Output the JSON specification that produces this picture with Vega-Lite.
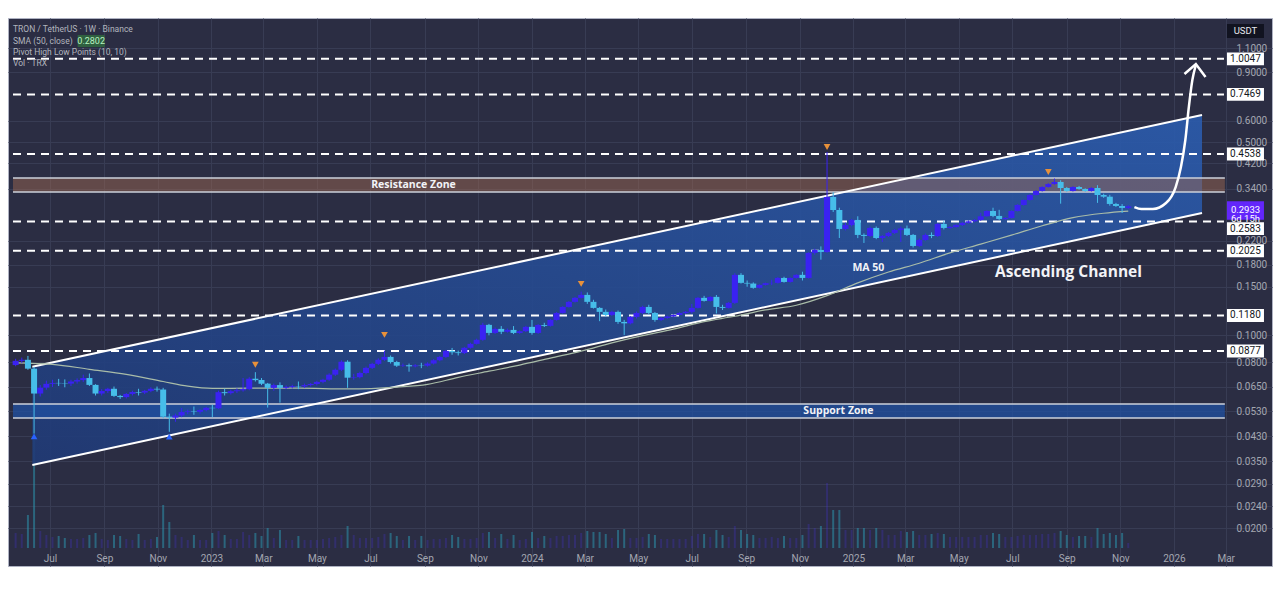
{
  "$schema": "https://vega.github.io/schema/vega-lite/v6.json",
  "width": 1264,
  "height": 548,
  "autosize": {"type": "none"},
  "padding": {"left": 8, "top": 18, "right": 8, "bottom": 44},
  "background": "#ffffff",
  "config": {
    "view": {"fill": "#2b2d43", "stroke": "#aeb2c2", "strokeWidth": 1},
    "font": "Roboto",
    "axis": {"domain": false, "ticks": false, "gridColor": "#383c54", "gridWidth": 1, "labelColor": "#a4a7b1", "labelFontSize": 10, "labelFont": "Roboto"}
  },
  "title": {
    "text": ["TRON / TetherUS · 1W · Binance", "SMA (50, close)", "Pivot High Low Points (10, 10)", "Vol · TRX"],
    "anchor": "start", "frame": "group", "offset": -50, "dx": 5,
    "fontSize": 8.5, "fontWeight": "normal", "color": "#b2b5be", "lineHeight": 11.4, "font": "Roboto"
  },
  "datasets": {
    "candles": [
      {"d":"2022-05-23","o":0.0780,"h":0.0822,"l":0.0772,"c":0.0808,"v":1500},
      {"d":"2022-05-30","o":0.0808,"h":0.0830,"l":0.0795,"c":0.0815,"v":1400},
      {"d":"2022-06-06","o":0.0815,"h":0.0842,"l":0.0750,"c":0.0757,"v":3300},
      {"d":"2022-06-13","o":0.0757,"h":0.0768,"l":0.0440,"c":0.0615,"v":10800},
      {"d":"2022-06-20","o":0.0615,"h":0.0660,"l":0.0600,"c":0.0646,"v":1700},
      {"d":"2022-06-27","o":0.0646,"h":0.0685,"l":0.0635,"c":0.0667,"v":1300},
      {"d":"2022-07-04","o":0.0667,"h":0.0690,"l":0.0650,"c":0.0672,"v":1100},
      {"d":"2022-07-11","o":0.0672,"h":0.0695,"l":0.0655,"c":0.0670,"v":1200},
      {"d":"2022-07-18","o":0.0670,"h":0.0692,"l":0.0648,"c":0.0668,"v":1000},
      {"d":"2022-07-25","o":0.0668,"h":0.0690,"l":0.0655,"c":0.0680,"v":900},
      {"d":"2022-08-01","o":0.0680,"h":0.0698,"l":0.0668,"c":0.0688,"v":900},
      {"d":"2022-08-08","o":0.0688,"h":0.0720,"l":0.0678,"c":0.0700,"v":1000},
      {"d":"2022-08-15","o":0.0700,"h":0.0727,"l":0.0655,"c":0.0661,"v":1300},
      {"d":"2022-08-22","o":0.0661,"h":0.0665,"l":0.0605,"c":0.0615,"v":1500},
      {"d":"2022-08-29","o":0.0615,"h":0.0638,"l":0.0605,"c":0.0628,"v":900},
      {"d":"2022-09-05","o":0.0628,"h":0.0645,"l":0.0618,"c":0.0640,"v":800},
      {"d":"2022-09-12","o":0.0640,"h":0.0652,"l":0.0598,"c":0.0603,"v":1300},
      {"d":"2022-09-19","o":0.0603,"h":0.0608,"l":0.0588,"c":0.0597,"v":1200},
      {"d":"2022-09-26","o":0.0597,"h":0.0618,"l":0.0590,"c":0.0613,"v":900},
      {"d":"2022-10-03","o":0.0613,"h":0.0630,"l":0.0605,"c":0.0623,"v":800},
      {"d":"2022-10-10","o":0.0623,"h":0.0640,"l":0.0605,"c":0.0620,"v":1400},
      {"d":"2022-10-17","o":0.0620,"h":0.0634,"l":0.0612,"c":0.0629,"v":800},
      {"d":"2022-10-24","o":0.0629,"h":0.0648,"l":0.0622,"c":0.0640,"v":900},
      {"d":"2022-10-31","o":0.0640,"h":0.0652,"l":0.0625,"c":0.0636,"v":1100},
      {"d":"2022-11-07","o":0.0636,"h":0.0645,"l":0.0500,"c":0.0507,"v":4300},
      {"d":"2022-11-14","o":0.0507,"h":0.0520,"l":0.0447,"c":0.0503,"v":2600},
      {"d":"2022-11-21","o":0.0503,"h":0.0520,"l":0.0486,"c":0.0512,"v":1300},
      {"d":"2022-11-28","o":0.0512,"h":0.0545,"l":0.0505,"c":0.0527,"v":1100},
      {"d":"2022-12-05","o":0.0527,"h":0.0538,"l":0.0518,"c":0.0530,"v":800},
      {"d":"2022-12-12","o":0.0530,"h":0.0552,"l":0.0515,"c":0.0528,"v":1300},
      {"d":"2022-12-19","o":0.0528,"h":0.0540,"l":0.0520,"c":0.0536,"v":800},
      {"d":"2022-12-26","o":0.0536,"h":0.0550,"l":0.0530,"c":0.0546,"v":800},
      {"d":"2023-01-02","o":0.0546,"h":0.0560,"l":0.0505,"c":0.0544,"v":1500},
      {"d":"2023-01-09","o":0.0544,"h":0.0630,"l":0.0540,"c":0.0622,"v":1700},
      {"d":"2023-01-16","o":0.0622,"h":0.0640,"l":0.0605,"c":0.0617,"v":1300},
      {"d":"2023-01-23","o":0.0617,"h":0.0635,"l":0.0610,"c":0.0627,"v":900},
      {"d":"2023-01-30","o":0.0627,"h":0.0642,"l":0.0618,"c":0.0632,"v":900},
      {"d":"2023-02-06","o":0.0632,"h":0.0700,"l":0.0625,"c":0.0638,"v":1600},
      {"d":"2023-02-13","o":0.0638,"h":0.0705,"l":0.0632,"c":0.0696,"v":1300},
      {"d":"2023-02-20","o":0.0696,"h":0.0735,"l":0.0680,"c":0.0688,"v":1500},
      {"d":"2023-02-27","o":0.0688,"h":0.0700,"l":0.0660,"c":0.0668,"v":1200},
      {"d":"2023-03-06","o":0.0668,"h":0.0672,"l":0.0547,"c":0.0645,"v":2000},
      {"d":"2023-03-13","o":0.0645,"h":0.0668,"l":0.0630,"c":0.0660,"v":1000},
      {"d":"2023-03-20","o":0.0660,"h":0.0675,"l":0.0570,"c":0.0645,"v":1800},
      {"d":"2023-03-27","o":0.0645,"h":0.0658,"l":0.0638,"c":0.0650,"v":800},
      {"d":"2023-04-03","o":0.0650,"h":0.0662,"l":0.0642,"c":0.0655,"v":800},
      {"d":"2023-04-10","o":0.0655,"h":0.0680,"l":0.0638,"c":0.0653,"v":1200},
      {"d":"2023-04-17","o":0.0653,"h":0.0668,"l":0.0645,"c":0.0660,"v":800},
      {"d":"2023-04-24","o":0.0660,"h":0.0672,"l":0.0652,"c":0.0666,"v":800},
      {"d":"2023-05-01","o":0.0666,"h":0.0684,"l":0.0658,"c":0.0678,"v":800},
      {"d":"2023-05-08","o":0.0678,"h":0.0696,"l":0.0670,"c":0.0690,"v":900},
      {"d":"2023-05-15","o":0.0690,"h":0.0728,"l":0.0684,"c":0.0720,"v":1000},
      {"d":"2023-05-22","o":0.0720,"h":0.0758,"l":0.0712,"c":0.0750,"v":1100},
      {"d":"2023-05-29","o":0.0750,"h":0.0812,"l":0.0742,"c":0.0802,"v":1300},
      {"d":"2023-06-05","o":0.0802,"h":0.0812,"l":0.0645,"c":0.0702,"v":2200},
      {"d":"2023-06-12","o":0.0702,"h":0.0725,"l":0.0690,"c":0.0705,"v":1300},
      {"d":"2023-06-19","o":0.0705,"h":0.0738,"l":0.0698,"c":0.0730,"v":1000},
      {"d":"2023-06-26","o":0.0730,"h":0.0770,"l":0.0722,"c":0.0762,"v":1000},
      {"d":"2023-07-03","o":0.0762,"h":0.0795,"l":0.0755,"c":0.0788,"v":1000},
      {"d":"2023-07-10","o":0.0788,"h":0.0825,"l":0.0780,"c":0.0815,"v":1100},
      {"d":"2023-07-17","o":0.0815,"h":0.0880,"l":0.0808,"c":0.0835,"v":1400},
      {"d":"2023-07-24","o":0.0835,"h":0.0845,"l":0.0790,"c":0.0800,"v":1500},
      {"d":"2023-07-31","o":0.0800,"h":0.0808,"l":0.0768,"c":0.0776,"v":1200},
      {"d":"2023-08-07","o":0.0776,"h":0.0790,"l":0.0768,"c":0.0779,"v":800},
      {"d":"2023-08-14","o":0.0779,"h":0.0790,"l":0.0738,"c":0.0772,"v":1200},
      {"d":"2023-08-21","o":0.0772,"h":0.0786,"l":0.0765,"c":0.0778,"v":800},
      {"d":"2023-08-28","o":0.0778,"h":0.0795,"l":0.0760,"c":0.0776,"v":1200},
      {"d":"2023-09-04","o":0.0776,"h":0.0798,"l":0.0770,"c":0.0790,"v":800},
      {"d":"2023-09-11","o":0.0790,"h":0.0820,"l":0.0784,"c":0.0812,"v":900},
      {"d":"2023-09-18","o":0.0812,"h":0.0842,"l":0.0805,"c":0.0835,"v":900},
      {"d":"2023-09-25","o":0.0835,"h":0.0885,"l":0.0828,"c":0.0878,"v":1000},
      {"d":"2023-10-02","o":0.0878,"h":0.0900,"l":0.0850,"c":0.0868,"v":1300},
      {"d":"2023-10-09","o":0.0868,"h":0.0880,"l":0.0845,"c":0.0862,"v":1100},
      {"d":"2023-10-16","o":0.0862,"h":0.0908,"l":0.0855,"c":0.0901,"v":900},
      {"d":"2023-10-23","o":0.0901,"h":0.0940,"l":0.0895,"c":0.0931,"v":900},
      {"d":"2023-10-30","o":0.0931,"h":0.0972,"l":0.0925,"c":0.0963,"v":1000},
      {"d":"2023-11-06","o":0.0963,"h":0.1110,"l":0.0955,"c":0.1091,"v":1500},
      {"d":"2023-11-13","o":0.1091,"h":0.1100,"l":0.1000,"c":0.1020,"v":1600},
      {"d":"2023-11-20","o":0.1020,"h":0.1068,"l":0.1012,"c":0.1055,"v":1000},
      {"d":"2023-11-27","o":0.1055,"h":0.1080,"l":0.1010,"c":0.1030,"v":1400},
      {"d":"2023-12-04","o":0.1030,"h":0.1058,"l":0.1022,"c":0.1046,"v":900},
      {"d":"2023-12-11","o":0.1046,"h":0.1080,"l":0.1010,"c":0.1020,"v":1300},
      {"d":"2023-12-18","o":0.1020,"h":0.1042,"l":0.1012,"c":0.1035,"v":800},
      {"d":"2023-12-25","o":0.1035,"h":0.1082,"l":0.1028,"c":0.1073,"v":900},
      {"d":"2024-01-01","o":0.1073,"h":0.1137,"l":0.1005,"c":0.1020,"v":1600},
      {"d":"2024-01-08","o":0.1020,"h":0.1098,"l":0.1012,"c":0.1090,"v":1000},
      {"d":"2024-01-15","o":0.1090,"h":0.1110,"l":0.1072,"c":0.1082,"v":1200},
      {"d":"2024-01-22","o":0.1082,"h":0.1145,"l":0.1075,"c":0.1137,"v":1000},
      {"d":"2024-01-29","o":0.1137,"h":0.1215,"l":0.1130,"c":0.1205,"v":1200},
      {"d":"2024-02-05","o":0.1205,"h":0.1275,"l":0.1198,"c":0.1267,"v":1200},
      {"d":"2024-02-12","o":0.1267,"h":0.1330,"l":0.1260,"c":0.1322,"v":1300},
      {"d":"2024-02-19","o":0.1322,"h":0.1378,"l":0.1315,"c":0.1367,"v":1300},
      {"d":"2024-02-26","o":0.1367,"h":0.1440,"l":0.1360,"c":0.1401,"v":1500},
      {"d":"2024-03-04","o":0.1401,"h":0.1430,"l":0.1300,"c":0.1322,"v":1700},
      {"d":"2024-03-11","o":0.1322,"h":0.1345,"l":0.1250,"c":0.1257,"v":1600},
      {"d":"2024-03-18","o":0.1257,"h":0.1265,"l":0.1125,"c":0.1216,"v":1600},
      {"d":"2024-03-25","o":0.1216,"h":0.1240,"l":0.1170,"c":0.1185,"v":1400},
      {"d":"2024-04-01","o":0.1185,"h":0.1228,"l":0.1175,"c":0.1216,"v":1000},
      {"d":"2024-04-08","o":0.1216,"h":0.1230,"l":0.1100,"c":0.1118,"v":1800},
      {"d":"2024-04-15","o":0.1118,"h":0.1137,"l":0.1003,"c":0.1105,"v":1900},
      {"d":"2024-04-22","o":0.1105,"h":0.1175,"l":0.1095,"c":0.1166,"v":1000},
      {"d":"2024-04-29","o":0.1166,"h":0.1220,"l":0.1150,"c":0.1205,"v":1000},
      {"d":"2024-05-06","o":0.1205,"h":0.1280,"l":0.1195,"c":0.1267,"v":1100},
      {"d":"2024-05-13","o":0.1267,"h":0.1290,"l":0.1190,"c":0.1205,"v":1400},
      {"d":"2024-05-20","o":0.1205,"h":0.1215,"l":0.1120,"c":0.1137,"v":1300},
      {"d":"2024-05-27","o":0.1137,"h":0.1165,"l":0.1128,"c":0.1156,"v":900},
      {"d":"2024-06-03","o":0.1156,"h":0.1178,"l":0.1148,"c":0.1170,"v":900},
      {"d":"2024-06-10","o":0.1170,"h":0.1192,"l":0.1162,"c":0.1185,"v":900},
      {"d":"2024-06-17","o":0.1185,"h":0.1212,"l":0.1178,"c":0.1205,"v":900},
      {"d":"2024-06-24","o":0.1205,"h":0.1225,"l":0.1195,"c":0.1216,"v":900},
      {"d":"2024-07-01","o":0.1216,"h":0.1300,"l":0.1200,"c":0.1257,"v":1200},
      {"d":"2024-07-08","o":0.1257,"h":0.1375,"l":0.1250,"c":0.1367,"v":1400},
      {"d":"2024-07-15","o":0.1367,"h":0.1390,"l":0.1325,"c":0.1333,"v":1400},
      {"d":"2024-07-22","o":0.1333,"h":0.1385,"l":0.1325,"c":0.1378,"v":1100},
      {"d":"2024-07-29","o":0.1378,"h":0.1400,"l":0.1200,"c":0.1267,"v":1800},
      {"d":"2024-08-05","o":0.1267,"h":0.1290,"l":0.1235,"c":0.1257,"v":1300},
      {"d":"2024-08-12","o":0.1257,"h":0.1320,"l":0.1250,"c":0.1311,"v":1100},
      {"d":"2024-08-19","o":0.1311,"h":0.1680,"l":0.1300,"c":0.1656,"v":2200},
      {"d":"2024-08-26","o":0.1656,"h":0.1680,"l":0.1540,"c":0.1549,"v":1800},
      {"d":"2024-09-02","o":0.1549,"h":0.1580,"l":0.1500,"c":0.1540,"v":1400},
      {"d":"2024-09-09","o":0.1540,"h":0.1555,"l":0.1475,"c":0.1486,"v":1300},
      {"d":"2024-09-16","o":0.1486,"h":0.1530,"l":0.1478,"c":0.1523,"v":1000},
      {"d":"2024-09-23","o":0.1523,"h":0.1552,"l":0.1515,"c":0.1545,"v":1000},
      {"d":"2024-09-30","o":0.1545,"h":0.1590,"l":0.1520,"c":0.1549,"v":1100},
      {"d":"2024-10-07","o":0.1549,"h":0.1625,"l":0.1540,"c":0.1614,"v":1000},
      {"d":"2024-10-14","o":0.1614,"h":0.1630,"l":0.1552,"c":0.1561,"v":1200},
      {"d":"2024-10-21","o":0.1561,"h":0.1622,"l":0.1552,"c":0.1614,"v":1000},
      {"d":"2024-10-28","o":0.1614,"h":0.1665,"l":0.1605,"c":0.1656,"v":1000},
      {"d":"2024-11-04","o":0.1656,"h":0.1700,"l":0.1580,"c":0.1614,"v":1300},
      {"d":"2024-11-11","o":0.1614,"h":0.2000,"l":0.1605,"c":0.1989,"v":2400},
      {"d":"2024-11-18","o":0.1989,"h":0.2060,"l":0.1960,"c":0.2039,"v":2000},
      {"d":"2024-11-25","o":0.2039,"h":0.2100,"l":0.1880,"c":0.2005,"v":2200},
      {"d":"2024-12-02","o":0.2005,"h":0.4617,"l":0.1990,"c":0.3172,"v":6500},
      {"d":"2024-12-09","o":0.3172,"h":0.3300,"l":0.2800,"c":0.2846,"v":3800},
      {"d":"2024-12-16","o":0.2846,"h":0.2900,"l":0.2253,"c":0.2429,"v":3800},
      {"d":"2024-12-23","o":0.2429,"h":0.2560,"l":0.2400,"c":0.2510,"v":1800},
      {"d":"2024-12-30","o":0.2510,"h":0.2640,"l":0.2480,"c":0.2619,"v":1800},
      {"d":"2025-01-06","o":0.2619,"h":0.2700,"l":0.2250,"c":0.2311,"v":2000},
      {"d":"2025-01-13","o":0.2311,"h":0.2340,"l":0.2161,"c":0.2292,"v":2000},
      {"d":"2025-01-20","o":0.2292,"h":0.2480,"l":0.2270,"c":0.2450,"v":1800},
      {"d":"2025-01-27","o":0.2450,"h":0.2480,"l":0.2230,"c":0.2253,"v":2000},
      {"d":"2025-02-03","o":0.2253,"h":0.2310,"l":0.2180,"c":0.2290,"v":1800},
      {"d":"2025-02-10","o":0.2290,"h":0.2370,"l":0.2270,"c":0.2350,"v":1300},
      {"d":"2025-02-17","o":0.2350,"h":0.2430,"l":0.2330,"c":0.2409,"v":1300},
      {"d":"2025-02-24","o":0.2409,"h":0.2480,"l":0.2180,"c":0.2440,"v":1700},
      {"d":"2025-03-03","o":0.2440,"h":0.2500,"l":0.2290,"c":0.2311,"v":1600},
      {"d":"2025-03-10","o":0.2311,"h":0.2330,"l":0.2080,"c":0.2108,"v":1700},
      {"d":"2025-03-17","o":0.2108,"h":0.2240,"l":0.2090,"c":0.2216,"v":1300},
      {"d":"2025-03-24","o":0.2216,"h":0.2340,"l":0.2200,"c":0.2311,"v":1300},
      {"d":"2025-03-31","o":0.2311,"h":0.2360,"l":0.2250,"c":0.2290,"v":1400},
      {"d":"2025-04-07","o":0.2290,"h":0.2550,"l":0.2270,"c":0.2533,"v":1500},
      {"d":"2025-04-14","o":0.2533,"h":0.2600,"l":0.2420,"c":0.2450,"v":1400},
      {"d":"2025-04-21","o":0.2450,"h":0.2490,"l":0.2430,"c":0.2470,"v":1100},
      {"d":"2025-04-28","o":0.2470,"h":0.2530,"l":0.2455,"c":0.2510,"v":1100},
      {"d":"2025-05-05","o":0.2510,"h":0.2575,"l":0.2490,"c":0.2555,"v":1100},
      {"d":"2025-05-12","o":0.2555,"h":0.2610,"l":0.2540,"c":0.2590,"v":1100},
      {"d":"2025-05-19","o":0.2590,"h":0.2640,"l":0.2570,"c":0.2619,"v":1100},
      {"d":"2025-05-26","o":0.2619,"h":0.2780,"l":0.2600,"c":0.2700,"v":1300},
      {"d":"2025-06-02","o":0.2700,"h":0.2840,"l":0.2690,"c":0.2822,"v":1300},
      {"d":"2025-06-09","o":0.2822,"h":0.2900,"l":0.2680,"c":0.2708,"v":1500},
      {"d":"2025-06-16","o":0.2708,"h":0.2850,"l":0.2620,"c":0.2641,"v":1400},
      {"d":"2025-06-23","o":0.2641,"h":0.2680,"l":0.2620,"c":0.2662,"v":1100},
      {"d":"2025-06-30","o":0.2662,"h":0.2840,"l":0.2650,"c":0.2822,"v":1100},
      {"d":"2025-07-07","o":0.2822,"h":0.2990,"l":0.2810,"c":0.2967,"v":1200},
      {"d":"2025-07-14","o":0.2967,"h":0.3110,"l":0.2950,"c":0.3094,"v":1300},
      {"d":"2025-07-21","o":0.3094,"h":0.3250,"l":0.3080,"c":0.3225,"v":1300},
      {"d":"2025-07-28","o":0.3225,"h":0.3360,"l":0.3210,"c":0.3335,"v":1300},
      {"d":"2025-08-04","o":0.3335,"h":0.3470,"l":0.3320,"c":0.3448,"v":1400},
      {"d":"2025-08-11","o":0.3448,"h":0.3560,"l":0.3430,"c":0.3536,"v":1400},
      {"d":"2025-08-18","o":0.3536,"h":0.3700,"l":0.3510,"c":0.3596,"v":1500},
      {"d":"2025-08-25","o":0.3596,"h":0.3650,"l":0.3000,"c":0.3420,"v":1700},
      {"d":"2025-09-01","o":0.3420,"h":0.3450,"l":0.3310,"c":0.3335,"v":1300},
      {"d":"2025-09-08","o":0.3335,"h":0.3470,"l":0.3320,"c":0.3448,"v":1100},
      {"d":"2025-09-15","o":0.3448,"h":0.3480,"l":0.3370,"c":0.3392,"v":1200},
      {"d":"2025-09-22","o":0.3392,"h":0.3410,"l":0.3310,"c":0.3335,"v":1200},
      {"d":"2025-09-29","o":0.3335,"h":0.3440,"l":0.3320,"c":0.3420,"v":1100},
      {"d":"2025-10-06","o":0.3420,"h":0.3500,"l":0.3020,"c":0.3225,"v":2000},
      {"d":"2025-10-13","o":0.3225,"h":0.3260,"l":0.3150,"c":0.3180,"v":1400},
      {"d":"2025-10-20","o":0.3180,"h":0.3230,"l":0.2950,"c":0.2993,"v":1500},
      {"d":"2025-10-27","o":0.2993,"h":0.3020,"l":0.2920,"c":0.2943,"v":1300},
      {"d":"2025-11-03","o":0.2943,"h":0.2990,"l":0.2776,"c":0.2895,"v":1500},
      {"d":"2025-11-10","o":0.2895,"h":0.2960,"l":0.2870,"c":0.2933,"v":500}
    ],
    "ma": [
      {"d":"2022-05-23","p":0.0795},{"d":"2022-07-04","p":0.0785},{"d":"2022-08-15","p":0.0753},
      {"d":"2022-09-26","p":0.0722},{"d":"2022-11-07","p":0.0680},{"d":"2022-12-05","p":0.0654},
      {"d":"2023-01-02","p":0.0642},{"d":"2023-02-13","p":0.0643},{"d":"2023-04-10","p":0.0643},
      {"d":"2023-06-05","p":0.0639},{"d":"2023-07-31","p":0.0649},{"d":"2023-09-04","p":0.0664},
      {"d":"2023-10-09","p":0.0704},{"d":"2023-11-13","p":0.0741},{"d":"2023-12-18","p":0.0780},
      {"d":"2024-01-22","p":0.0827},{"d":"2024-02-26","p":0.0876},{"d":"2024-04-01","p":0.0939},
      {"d":"2024-05-06","p":0.0997},{"d":"2024-06-10","p":0.1053},{"d":"2024-07-15","p":0.1121},
      {"d":"2024-08-19","p":0.1172},{"d":"2024-09-23","p":0.1236},{"d":"2024-10-28","p":0.1285},
      {"d":"2024-12-02","p":0.1392},{"d":"2025-01-06","p":0.1549},{"d":"2025-02-10","p":0.1696},
      {"d":"2025-03-17","p":0.1825},{"d":"2025-04-21","p":0.1989},{"d":"2025-05-26","p":0.2141},
      {"d":"2025-06-30","p":0.2307},{"d":"2025-08-04","p":0.2495},{"d":"2025-09-08","p":0.2670},
      {"d":"2025-10-13","p":0.2769},{"d":"2025-11-10","p":0.2818}
    ],
    "channel": [
      {"d":"2022-06-11","upper":0.0769,"lower":0.0339},
      {"d":"2026-02-02","upper":0.6289,"lower":0.2777}
    ],
    "zones": [
      {"zone":"Resistance Zone","top":0.3716,"bottom":0.3306,"from":"2022-05-20","to":"2026-02-28"},
      {"zone":"Support Zone","top":0.0564,"bottom":0.0501,"from":"2022-05-20","to":"2026-02-28"}
    ],
    "levels": [
      {"p":1.0047,"from":"2022-05-20","to":"2026-02-27"},
      {"p":0.7469,"from":"2022-05-20","to":"2026-02-27"},
      {"p":0.4538,"from":"2022-05-20","to":"2026-02-27"},
      {"p":0.2583,"from":"2022-05-20","to":"2026-02-27"},
      {"p":0.2025,"from":"2022-05-20","to":"2026-02-27"},
      {"p":0.1180,"from":"2022-05-20","to":"2026-02-27"},
      {"p":0.0877,"from":"2022-05-20","to":"2026-02-27"}
    ],
    "pivH": [
      {"d":"2023-02-20","p":0.0782},{"d":"2023-07-17","p":0.1003},{"d":"2024-02-26","p":0.1536},
      {"d":"2024-12-02","p":0.4814},{"d":"2025-08-11","p":0.3908}
    ],
    "pivL": [
      {"d":"2022-06-13","p":0.0430},{"d":"2022-11-14","p":0.0429}
    ],
    "arrow": [
      {"d":"2025-11-17","p":0.2917},{"d":"2025-11-25","p":0.2869},{"d":"2025-12-08","p":0.2869},
      {"d":"2025-12-23","p":0.3016},{"d":"2026-01-03","p":0.3447},{"d":"2026-01-09","p":0.4073},
      {"d":"2026-01-14","p":0.5104},{"d":"2026-01-18","p":0.6722},{"d":"2026-01-22","p":0.8422},
      {"d":"2026-01-26","p":0.9545}
    ],
    "chevron": [
      {"d":"2026-01-13","p":0.8854},{"d":"2026-01-26","p":0.9624},{"d":"2026-02-06","p":0.8635}
    ],
    "notes": [
      {"t":"Resistance Zone","d":"2023-08-19","p":0.3505},
      {"t":"Support Zone","d":"2024-12-15","p":0.0532},
      {"t":"MA 50","d":"2025-01-18","p":0.1755}
    ],
    "bignote": [
      {"t":"Ascending Channel","d":"2025-09-03","p":0.1697}
    ],
    "last": [{"p":0.2933,"t":["0.2933","6d 15h"],"to":"2026-02-27"}],
    "unit": [{"p":1.268,"t":"USDT","to":"2026-02-27"}],
    "smatag": [{"d":"2022-08-17","p":1.166,"t":"0.2802"}]
  },
  "encoding": {
    "x": {
      "field": "d", "type": "temporal", "title": null,
      "scale": {"domain": [{"year":2022,"month":5,"date":20},{"year":2026,"month":4,"date":17}], "nice": false},
      "axis": {
        "orient": "bottom", "offset": -18, "labelPadding": 5, "grid": true,
        "tickCount": {"interval": "month", "step": 2},
        "labelOverlap": false,
        "labelExpr": "month(datum.value) == 0 ? timeFormat(datum.value, '%Y') : timeFormat(datum.value, '%b')"
      }
    }
  },
  "layer": [
    {
      "data": {"name": "candles"},
      "mark": {"type": "bar", "size": 2},
      "encoding": {
        "y": {"field": "v", "type": "quantitative", "title": null, "scale": {"domain": [-1800, 53000], "nice": false, "zero": false}, "axis": null},
        "color": {"condition": {"test": "datum.c >= datum.o", "value": "#4632d6"}, "value": "#2b93ad"},
        "opacity": {"condition": {"test": "datum.c >= datum.o", "value": 0.28}, "value": 0.55}
      }
    },
    {
      "layer": [
        {
          "data": {"name": "channel"},
          "mark": {"type": "area", "opacity": 0.9, "color": {"gradient": "linear", "x1": 0, "y1": 1, "x2": 1, "y2": 0, "stops": [{"offset": 0, "color": "#203a76"}, {"offset": 1, "color": "#2b5cae"}]}},
          "encoding": {
            "y": {
              "field": "upper", "type": "quantitative", "title": null,
              "scale": {"type": "log", "domain": [0.01458, 1.413], "nice": false},
              "axis": {
                "orient": "right", "offset": -44, "labelPadding": 8, "grid": true, "labelOverlap": false,
                "values": [1.1, 0.9, 0.6, 0.5, 0.42, 0.34, 0.22, 0.18, 0.15, 0.1, 0.08, 0.065, 0.053, 0.043, 0.035, 0.029, 0.024, 0.02],
                "format": ".4f"
              }
            },
            "y2": {"field": "lower"}
          }
        },
        {
          "data": {"name": "zones"},
          "mark": {"type": "rect"},
          "encoding": {
            "x": {"field": "from", "type": "temporal", "title": null},
            "x2": {"field": "to"},
            "y": {"field": "top", "type": "quantitative", "title": null},
            "y2": {"field": "bottom"},
            "color": {"field": "zone", "type": "nominal", "legend": null, "scale": {"domain": ["Resistance Zone", "Support Zone"], "range": ["#9a6650", "#2050a2"]}},
            "opacity": {"field": "zone", "type": "nominal", "legend": null, "scale": {"domain": ["Resistance Zone", "Support Zone"], "range": [0.5, 0.75]}}
          }
        },
        {
          "data": {"name": "zones"},
          "mark": {"type": "rule", "color": "#cdd0da", "strokeWidth": 1.5},
          "encoding": {
            "x": {"field": "from", "type": "temporal", "title": null},
            "x2": {"field": "to"},
            "y": {"field": "top", "type": "quantitative", "title": null}
          }
        },
        {
          "data": {"name": "zones"},
          "mark": {"type": "rule", "color": "#cdd0da", "strokeWidth": 1.5},
          "encoding": {
            "x": {"field": "from", "type": "temporal", "title": null},
            "x2": {"field": "to"},
            "y": {"field": "bottom", "type": "quantitative", "title": null}
          }
        },
        {
          "data": {"name": "levels"},
          "mark": {"type": "rule", "color": "#ffffff", "strokeWidth": 2, "strokeDash": [8, 6]},
          "encoding": {
            "x": {"field": "from", "type": "temporal", "title": null},
            "x2": {"field": "to"},
            "y": {"field": "p", "type": "quantitative", "title": null}
          }
        },
        {
          "data": {"name": "channel"},
          "mark": {"type": "line", "color": "#ffffff", "strokeWidth": 2},
          "encoding": {"y": {"field": "upper", "type": "quantitative", "title": null}}
        },
        {
          "data": {"name": "channel"},
          "mark": {"type": "line", "color": "#ffffff", "strokeWidth": 2},
          "encoding": {"y": {"field": "lower", "type": "quantitative", "title": null}}
        },
        {
          "data": {"name": "ma"},
          "mark": {"type": "line", "color": "#a9bca8", "strokeWidth": 1.2, "interpolate": "monotone"},
          "encoding": {"y": {"field": "p", "type": "quantitative", "title": null}}
        },
        {
          "data": {"name": "candles"},
          "mark": {"type": "rule", "strokeWidth": 1},
          "encoding": {
            "y": {"field": "l", "type": "quantitative", "title": null},
            "y2": {"field": "h"},
            "color": {"condition": {"test": "datum.c >= datum.o", "value": "#3a22f2"}, "value": "#46bde9"}
          }
        },
        {
          "data": {"name": "candles"},
          "mark": {"type": "bar", "size": 6},
          "encoding": {
            "y": {"field": "o", "type": "quantitative", "title": null},
            "y2": {"field": "c"},
            "color": {"condition": {"test": "datum.c >= datum.o", "value": "#3a22f2"}, "value": "#46bde9"}
          }
        },
        {
          "data": {"name": "pivH"},
          "mark": {"type": "point", "shape": "triangle-down", "filled": true, "color": "#e8913a", "size": 45, "opacity": 1},
          "encoding": {"y": {"field": "p", "type": "quantitative", "title": null}}
        },
        {
          "data": {"name": "pivL"},
          "mark": {"type": "point", "shape": "triangle-up", "filled": true, "color": "#2962ff", "size": 45, "opacity": 1},
          "encoding": {"y": {"field": "p", "type": "quantitative", "title": null}}
        },
        {
          "data": {"name": "arrow"},
          "mark": {"type": "line", "color": "#ffffff", "strokeWidth": 2.5, "interpolate": "monotone"},
          "encoding": {"y": {"field": "p", "type": "quantitative", "title": null}}
        },
        {
          "data": {"name": "chevron"},
          "mark": {"type": "line", "color": "#ffffff", "strokeWidth": 2.5, "strokeJoin": "miter"},
          "encoding": {"y": {"field": "p", "type": "quantitative", "title": null}}
        },
        {
          "data": {"name": "notes"},
          "mark": {"type": "text", "font": "Open Sans", "fontWeight": "bold", "fontSize": 10.5, "color": "#f2f3f7", "align": "center", "baseline": "middle"},
          "encoding": {"y": {"field": "p", "type": "quantitative", "title": null}, "text": {"field": "t"}}
        },
        {
          "data": {"name": "bignote"},
          "mark": {"type": "text", "font": "Open Sans", "fontWeight": "bold", "fontSize": 15.5, "color": "#f2f3f7", "align": "center", "baseline": "middle"},
          "encoding": {"y": {"field": "p", "type": "quantitative", "title": null}, "text": {"field": "t"}}
        },
        {
          "data": {"name": "last"},
          "mark": {"type": "point", "shape": "M-1,-0.5H1V0.5H-1Z", "size": 1369, "filled": true, "color": "#6326fb", "opacity": 1, "yOffset": 4, "xOffset": 21.5},
          "encoding": {
            "x": {"field": "to", "type": "temporal", "title": null},
            "y": {"field": "p", "type": "quantitative", "title": null}
          }
        },
        {
          "data": {"name": "last"},
          "mark": {"type": "text", "fontSize": 9.5, "color": "#ffffff", "align": "center", "baseline": "middle", "lineHeight": 9, "yOffset": 4, "xOffset": 21.5, "font": "Roboto"},
          "encoding": {
            "x": {"field": "to", "type": "temporal", "title": null},
            "y": {"field": "p", "type": "quantitative", "title": null},
            "text": {"field": "t"}
          }
        },
        {
          "data": {"name": "levels"},
          "transform": [{"filter": "datum.p != 0.2583"}],
          "mark": {"type": "point", "shape": "M-1,-0.35H1V0.35H-1Z", "size": 1369, "filled": true, "color": "#ffffff", "opacity": 1, "xOffset": 21.5},
          "encoding": {
            "x": {"field": "to", "type": "temporal", "title": null},
            "y": {"field": "p", "type": "quantitative", "title": null}
          }
        },
        {
          "data": {"name": "levels"},
          "transform": [{"filter": "datum.p != 0.2583"}],
          "mark": {"type": "text", "fontSize": 10, "color": "#131722", "align": "center", "baseline": "middle", "font": "Roboto", "xOffset": 21.5},
          "encoding": {
            "x": {"field": "to", "type": "temporal", "title": null},
            "y": {"field": "p", "type": "quantitative", "title": null},
            "text": {"field": "p", "type": "quantitative", "format": ".4f"}
          }
        },
        {
          "data": {"name": "levels"},
          "transform": [{"filter": "datum.p == 0.2583"}],
          "mark": {"type": "point", "shape": "M-1,-0.35H1V0.35H-1Z", "size": 1369, "filled": true, "color": "#ffffff", "opacity": 1, "xOffset": 21.5, "yOffset": 7},
          "encoding": {
            "x": {"field": "to", "type": "temporal", "title": null},
            "y": {"field": "p", "type": "quantitative", "title": null}
          }
        },
        {
          "data": {"name": "levels"},
          "transform": [{"filter": "datum.p == 0.2583"}],
          "mark": {"type": "text", "fontSize": 10, "color": "#131722", "align": "center", "baseline": "middle", "font": "Roboto", "xOffset": 21.5, "yOffset": 7},
          "encoding": {
            "x": {"field": "to", "type": "temporal", "title": null},
            "y": {"field": "p", "type": "quantitative", "title": null},
            "text": {"field": "p", "type": "quantitative", "format": ".4f"}
          }
        },
        {
          "data": {"name": "unit"},
          "mark": {"type": "point", "shape": "M-1,-0.38H1V0.38H-1Z", "size": 1369, "filled": true, "color": "#111320", "opacity": 1, "xOffset": 21.5},
          "encoding": {
            "x": {"field": "to", "type": "temporal", "title": null},
            "y": {"field": "p", "type": "quantitative", "title": null}
          }
        },
        {
          "data": {"name": "unit"},
          "mark": {"type": "text", "fontSize": 9.5, "color": "#e6e7ec", "align": "center", "baseline": "middle", "font": "Roboto", "xOffset": 21.5},
          "encoding": {
            "x": {"field": "to", "type": "temporal", "title": null},
            "y": {"field": "p", "type": "quantitative", "title": null},
            "text": {"field": "t"}
          }
        },
        {
          "data": {"name": "smatag"},
          "mark": {"type": "point", "shape": "M-1,-0.45H1V0.45H-1Z", "size": 729, "filled": true, "color": "#2f6040", "opacity": 1},
          "encoding": {"y": {"field": "p", "type": "quantitative", "title": null}}
        },
        {
          "data": {"name": "smatag"},
          "mark": {"type": "text", "fontSize": 9, "color": "#b8f2c0", "align": "center", "baseline": "middle", "font": "Roboto"},
          "encoding": {"y": {"field": "p", "type": "quantitative", "title": null}, "text": {"field": "t"}}
        }
      ]
    }
  ],
  "resolve": {"scale": {"y": "independent"}}
}
